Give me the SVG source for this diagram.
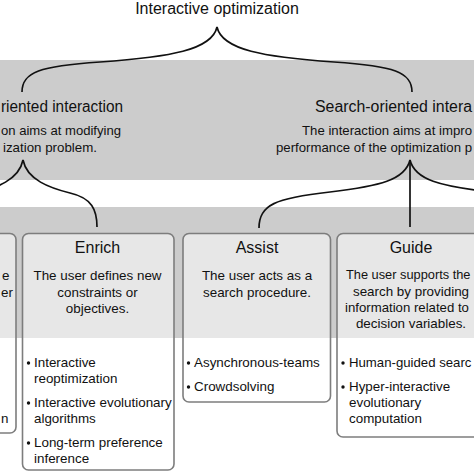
<svg xmlns="http://www.w3.org/2000/svg" width="474" height="474" viewBox="0 0 474 474">
<style>
text{font-family:"Liberation Sans",Arial,sans-serif;fill:#111}
.t16{font-size:16px}
.t13{font-size:13.4px}
.mid{text-anchor:middle}
.end{text-anchor:end}
.band{fill:#cccccc}
.box{fill:#ffffff;stroke:none}
.hdr{fill:#e7e7e7}
.frame{fill:none;stroke:#7d7d7d;stroke-width:1.6}
.brace{fill:none;stroke:#111;stroke-width:1.7}
.dot{fill:#111}
</style>
<rect width="474" height="474" fill="#ffffff"/>
<rect class="band" x="0" y="60" width="474" height="120"/>
<rect class="band" x="0" y="207" width="474" height="131"/>

<g id="connectors">
<path class="brace" d="M 22 92 C 22 72, 40 66, 100 62 C 170 57, 212 50, 217 27 C 222 50, 264 57, 334 62 C 394 66, 412 72, 412 92"/>
<path class="brace" d="M -51 227 C -51 210, -46 198, -24 193 C -4 188, 19 180, 23 160 C 27 180, 50 188, 70 193 C 92 198, 97 210, 97 227"/>
<path class="brace" d="M 259 228 C 259 205, 275 198, 330 192 C 380 186, 405 180, 410 160 C 415 180, 440 186, 490 192 C 545 198, 561 205, 561 228"/>
<line class="brace" x1="410" y1="160" x2="410" y2="227"/>
</g>

<g id="root">
<text class="t16 mid" x="217" y="14">Interactive optimization</text>
</g>

<g id="problem-oriented">
<text class="t16" x="1" y="112" textLength="122" lengthAdjust="spacingAndGlyphs">riented interaction</text>
<text class="t13" x="1" y="135" textLength="120" lengthAdjust="spacingAndGlyphs">on aims at modifying</text>
<text class="t13" x="3" y="152" textLength="94" lengthAdjust="spacingAndGlyphs">ization problem.</text>
</g>

<g id="search-oriented">
<text class="t16" x="315" y="112" textLength="157" lengthAdjust="spacingAndGlyphs">Search-oriented intera</text>
<text class="t13" x="302" y="135" textLength="170" lengthAdjust="spacingAndGlyphs">The interaction aims at impro</text>
<text class="t13" x="276" y="152" textLength="196" lengthAdjust="spacingAndGlyphs">performance of the optimization p</text>
</g>

<g id="box-left">
<rect class="box" x="-140" y="233.5" width="156" height="199.5" rx="6"/>
<path class="hdr" d="M -140 338 V 239.5 A 6 6 0 0 1 -134 233.5 H 10 A 6 6 0 0 1 16 239.5 V 338 Z"/>
<rect class="frame" x="-140" y="233.5" width="156" height="199.5" rx="6"/>
<text class="t13" x="2" y="280">e</text>
<text class="t13" x="1" y="297">er</text>
<text class="t13" x="1" y="423">n</text>
</g>

<g id="enrich">
<rect class="box" x="22.5" y="233.5" width="151.5" height="236.5" rx="6"/>
<path class="hdr" d="M 22.5 338 V 239.5 A 6 6 0 0 1 28.5 233.5 H 168 A 6 6 0 0 1 174 239.5 V 338 Z"/>
<rect class="frame" x="22.5" y="233.5" width="151.5" height="236.5" rx="6"/>
<text class="t16 mid" x="97.5" y="253">Enrich</text>
<text class="t13 mid" x="97.5" y="280">The user defines new</text>
<text class="t13 mid" x="97.5" y="297">constraints or</text>
<text class="t13 mid" x="97.5" y="313">objectives.</text>
<circle class="dot" cx="28.5" cy="363" r="1.7"/>
<text class="t13" x="34" y="367">Interactive</text>
<text class="t13" x="34" y="383">reoptimization</text>
<circle class="dot" cx="28.5" cy="403" r="1.7"/>
<text class="t13" x="34" y="407">Interactive evolutionary</text>
<text class="t13" x="34" y="423">algorithms</text>
<circle class="dot" cx="28.5" cy="443" r="1.7"/>
<text class="t13" x="34" y="447">Long-term preference</text>
<text class="t13" x="34" y="463">inference</text>
</g>

<g id="assist">
<rect class="box" x="183" y="233.5" width="147.5" height="168.5" rx="6"/>
<path class="hdr" d="M 183 338 V 239.5 A 6 6 0 0 1 189 233.5 H 324.5 A 6 6 0 0 1 330.5 239.5 V 338 Z"/>
<rect class="frame" x="183" y="233.5" width="147.5" height="168.5" rx="6"/>
<text class="t16 mid" x="257" y="253">Assist</text>
<text class="t13 mid" x="257" y="280">The user acts as a</text>
<text class="t13 mid" x="257" y="297">search procedure.</text>
<circle class="dot" cx="188.5" cy="363" r="1.7"/>
<text class="t13" x="194" y="367">Asynchronous-teams</text>
<circle class="dot" cx="188.5" cy="387" r="1.7"/>
<text class="t13" x="194" y="391">Crowdsolving</text>
</g>

<g id="guide">
<rect class="box" x="337" y="233.5" width="150" height="203.5" rx="6"/>
<path class="hdr" d="M 337 338 V 239.5 A 6 6 0 0 1 343 233.5 H 481 A 6 6 0 0 1 487 239.5 V 338 Z"/>
<rect class="frame" x="337" y="233.5" width="150" height="203.5" rx="6"/>
<text class="t16 mid" x="411" y="253">Guide</text>
<text x="346" y="279" style="font-size:12.8px">The user supports the</text>
<text class="t13 mid" x="411" y="296">search by providing</text>
<text x="345" y="312" style="font-size:13.2px">information related to</text>
<text class="t13 mid" x="411" y="328">decision variables.</text>
<circle class="dot" cx="343" cy="363" r="1.7"/>
<text x="349" y="367" style="font-size:13.2px">Human-guided searc</text>
<circle class="dot" cx="343" cy="387" r="1.7"/>
<text class="t13" x="349" y="391">Hyper-interactive</text>
<text class="t13" x="349" y="407">evolutionary</text>
<text class="t13" x="349" y="423">computation</text>
</g>
</svg>
